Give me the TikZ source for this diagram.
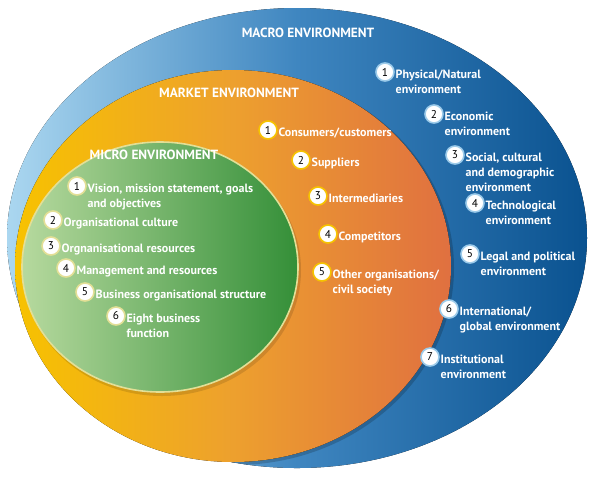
\documentclass[tikz,border=0pt]{standalone}
\usepackage{fontspec}
\setsansfont{PT Sans}
\usetikzlibrary{positioning}

\definecolor{macroL}{HTML}{ABD7F0}
\definecolor{macroM}{HTML}{3F86C0}
\definecolor{macroR}{HTML}{0A5290}
\definecolor{marketL}{HTML}{F7C200}
\definecolor{marketM}{HTML}{EDA02E}
\definecolor{marketR}{HTML}{E07040}
\definecolor{microL}{HTML}{B6D99E}
\definecolor{microR}{HTML}{348F38}
\definecolor{rimMicro}{HTML}{E3DF96}
\definecolor{rimMarket}{HTML}{F6C300}
\definecolor{rimMacro}{HTML}{9CCBEA}

\begin{document}
\begin{tikzpicture}[x=0.75pt,y=-0.75pt,
    itemtext/.style={font=\sffamily\bfseries\fontsize{9}{11.2}\selectfont, text=white, align=left, inner sep=0pt},
    envtitle/.style={font=\sffamily\bfseries\fontsize{10}{11}\selectfont, text=white, inner sep=0pt},
    num/.style={circle, fill=white, draw=#1, line width=1.2pt, minimum size=13.5pt, inner sep=0pt,
        font=\sffamily\fontsize{8.5}{9}\selectfont},
    next/.style={below right=3.3pt and 2.6pt of #1.north east, anchor=north west}
]
\useasboundingbox (0,0) rectangle (591,476);

% the three environments
\fill[left color=macroL, right color=macroR, middle color=macroM] (297,238) ellipse [x radius=290, y radius=230];
\begin{scope}
\clip (297,238) ellipse [x radius=290, y radius=230];
\fill[black, opacity=0.18] (235,268) ellipse [x radius=219, y radius=197];
\end{scope}
\fill[left color=marketL, right color=marketR, middle color=marketM] (233,266) ellipse [x radius=218, y radius=196];
\fill[black, opacity=0.12] (162,270) ellipse [x radius=139, y radius=126];
\draw[left color=microL, right color=microR, draw=rimMicro, line width=1.2pt] (160,267) ellipse [x radius=138, y radius=125];

\node[envtitle] (macro) at (308,33) {MACRO ENVIRONMENT};
\node[envtitle] (market) at (229,93) {MARKET ENVIRONMENT};
\node[envtitle] (micro) at (154,155) {MICRO ENVIRONMENT};

% micro
\node[num=rimMicro] (mi1) at (77,186) {1};
\node[itemtext, next=mi1] (mi1t) {Vision, mission statement, goals\\and objectives};
\node[num=rimMicro] (mi2) at (53,220) {2};
\node[itemtext, next=mi2] (mi2t) {Organisational culture};
\node[num=rimMicro] (mi3) at (51,246) {3};
\node[itemtext, next=mi3] (mi3t) {Orgnanisational resources};
\node[num=rimMicro] (mi4) at (66,268) {4};
\node[itemtext, next=mi4] (mi4t) {Management and resources};
\node[num=rimMicro] (mi5) at (85,292) {5};
\node[itemtext, next=mi5] (mi5t) {Business organisational structure};
\node[num=rimMicro] (mi6) at (116,316) {6};
\node[itemtext, next=mi6] (mi6t) {Eight business\\function};

% market
\node[num=rimMarket] (mk1) at (268,130) {1};
\node[itemtext, next=mk1] (mk1t) {Consumers/customers};
\node[num=rimMarket] (mk2) at (301,160) {2};
\node[itemtext, next=mk2] (mk2t) {Suppliers};
\node[num=rimMarket] (mk3) at (318,196) {3};
\node[itemtext, next=mk3] (mk3t) {Intermediaries};
\node[num=rimMarket] (mk4) at (328,234) {4};
\node[itemtext, next=mk4] (mk4t) {Competitors};
\node[num=rimMarket] (mk5) at (322,272) {5};
\node[itemtext, next=mk5] (mk5t) {Other organisations/\\civil society};

% macro
\node[num=rimMacro] (ma1) at (385,72) {1};
\node[itemtext, next=ma1] (ma1t) {Physical/Natural\\environment};
\node[num=rimMacro] (ma2) at (434,114) {2};
\node[itemtext, next=ma2] (ma2t) {Economic\\environment};
\node[num=rimMacro] (ma3) at (455,155) {3};
\node[itemtext, next=ma3] (ma3t) {Social, cultural\\and demographic\\environment};
\node[num=rimMacro] (ma4) at (475,203) {4};
\node[itemtext, next=ma4] (ma4t) {Technological\\environment};
\node[num=rimMacro] (ma5) at (470,254) {5};
\node[itemtext, next=ma5] (ma5t) {Legal and political\\environment};
\node[num=rimMacro] (ma6) at (449,309) {6};
\node[itemtext, next=ma6] (ma6t) {International/\\global environment};
\node[num=rimMacro] (ma7) at (430,357) {7};
\node[itemtext, next=ma7] (ma7t) {Institutional\\environment};

\end{tikzpicture}
\end{document}
